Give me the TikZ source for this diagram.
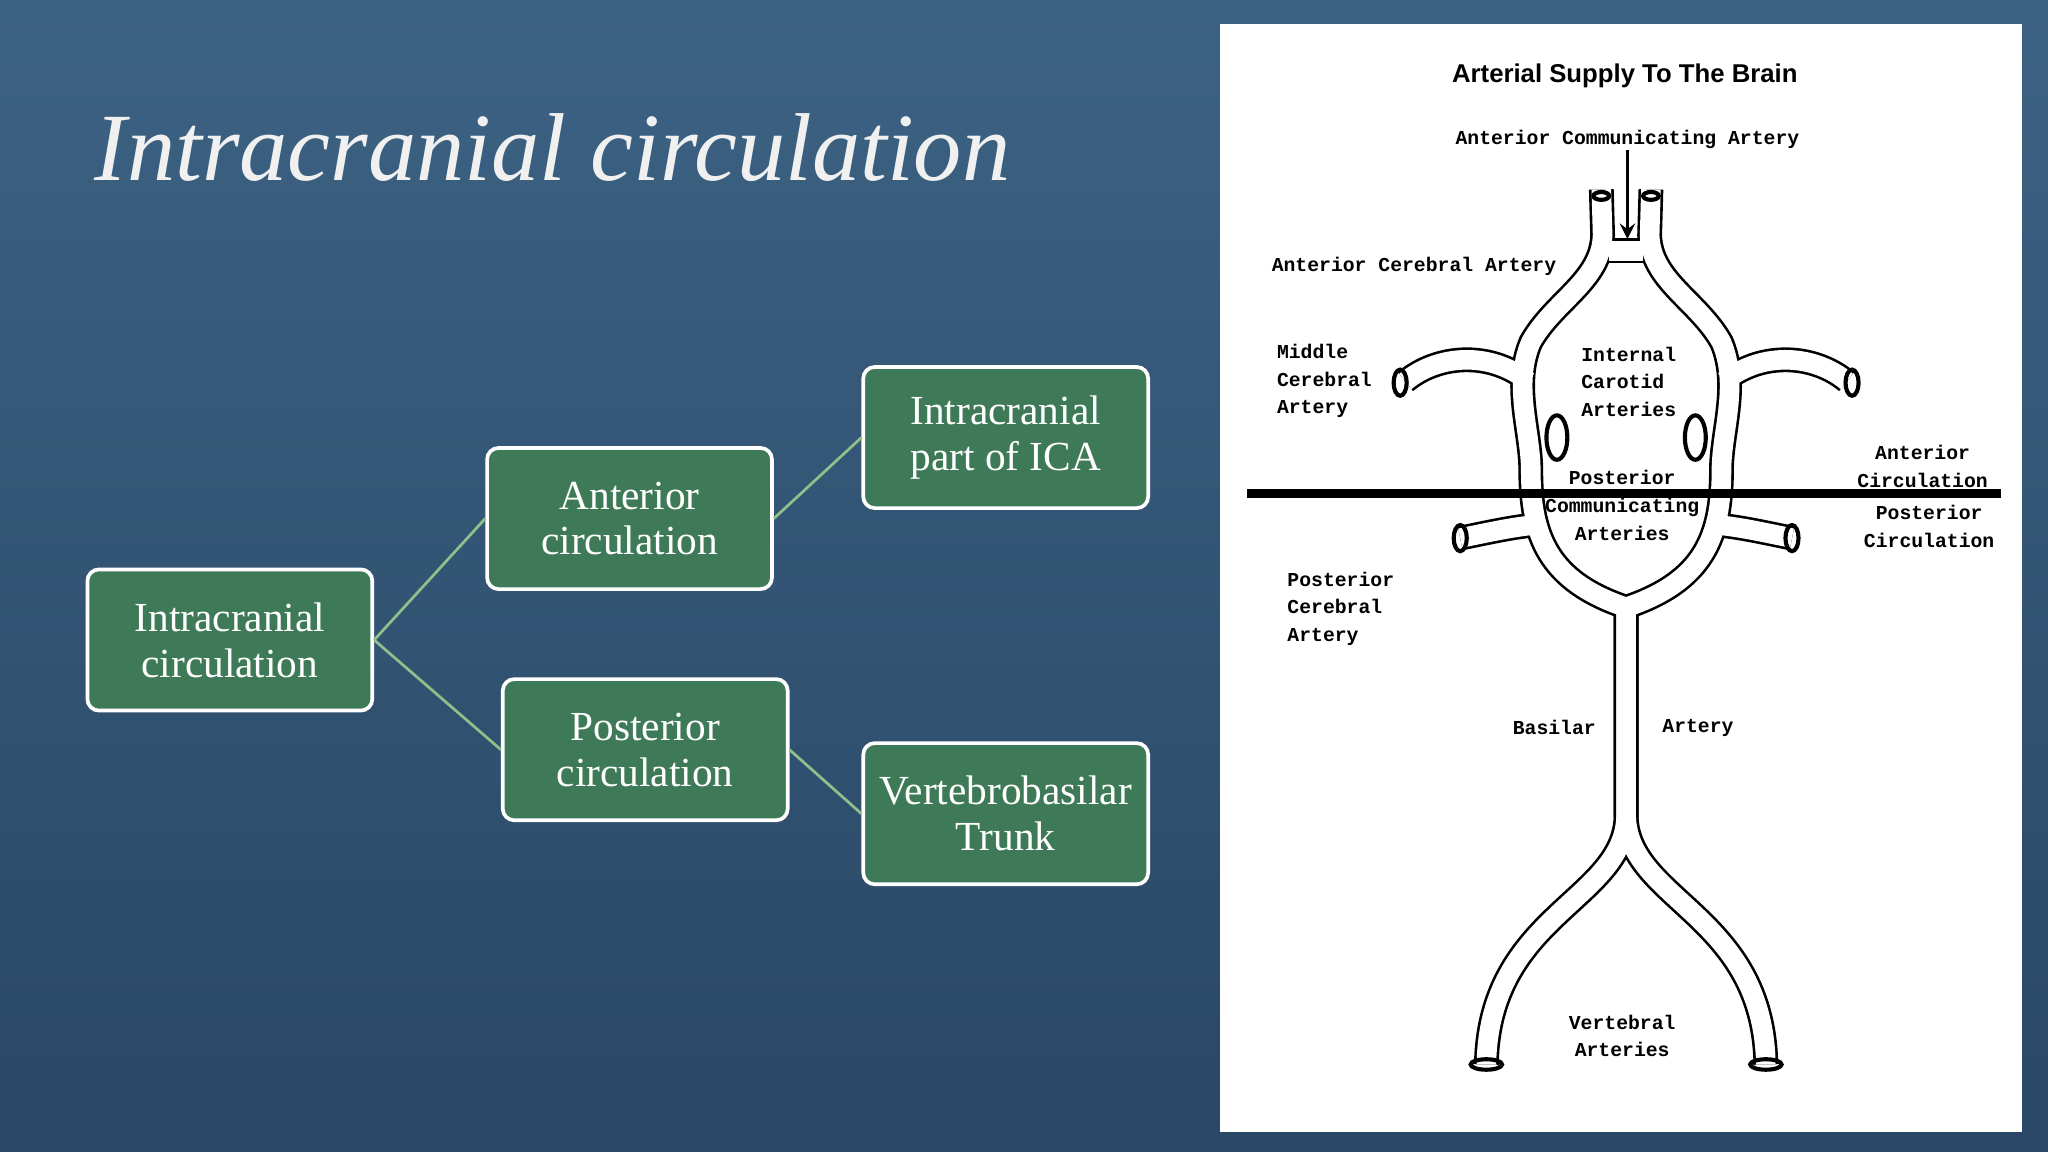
\documentclass[tikz,border=0pt]{standalone}
\usepackage{fontspec}
\setmainfont{Liberation Serif}
\newfontfamily\mono{Liberation Mono}
\newfontfamily\sans{Liberation Sans}
\begin{document}
\begin{tikzpicture}[x=0.01cm,y=-0.01cm,
 box/.style={draw=white,line width=0.8pt,rounded corners=2.5pt,fill=boxg,text=white,minimum width=2.18cm,minimum height=1.08cm,align=center,font=\fontsize{9}{10}\selectfont,inner sep=1pt},
 con/.style={draw=lgreen,line width=0.6pt},
 lab/.style={font=\mono\bfseries\fontsize{4.3}{6.0}\selectfont,align=left,text=black,inner sep=0pt}]
\definecolor{boxg}{HTML}{3F7A58}
\definecolor{lgreen}{HTML}{8FBF8A}
\definecolor{bgt}{HTML}{3C6283}
\definecolor{bgb}{HTML}{2A4765}
\shade[top color=bgt,bottom color=bgb] (0,0) rectangle (1568,882);
\useasboundingbox (0,0) rectangle (1568,882);
\node[anchor=base west,text=white!88!gray,font=\itshape\fontsize{21}{24}\selectfont,inner sep=0] (title) at (72,138) {Intracranial circulation};
\node[box] (a) at (176,490) {Intracranial\\circulation};
\node[box] (b) at (482,397) {Anterior\\circulation};
\node[box] (c) at (770,335) {Intracranial\\part of ICA};
\node[box] (d) at (494,574) {Posterior\\circulation};
\node[box] (e) at (770,623) {Vertebrobasilar\\Trunk};
\draw[con] (a.east) -- (b.west);
\draw[con] (a.east) -- (d.west);
\draw[con] (b.east) -- (c.west);
\draw[con] (d.east) -- (e.west);
% panel
\fill[white] (934,18) rectangle (1548,867);
\node[font=\sans\bfseries\fontsize{5.6}{7}\selectfont] (ttl) at (1244,58) {Arterial Supply To The Brain};
\def\half{
 (1138,815) .. controls (1140,700) and (1243,690) .. (1245,625) -- (1245,465)
 (1245,465) .. controls (1185,445) and (1172,410) .. (1172,360) .. controls (1172,330) and (1158,295) .. (1172,262) .. controls (1190,230) and (1226,215) .. (1227,180) -- (1226,145)
 (1170,292) .. controls (1140,268) and (1100,272) .. (1076,292)
 (1174,402) .. controls (1155,404) and (1138,408) .. (1118,412)
}
\foreach \w/\c in {19/black,15/white}{
 \draw[line width=\w*0.2845pt,\c] \half;
 \begin{scope}[shift={(2490,0)},xscale=-1]\draw[line width=\w*0.2845pt,\c] \half;\end{scope}
 \draw[line width=\w*0.2845pt,\c] (1232,192) -- (1258,192);
}
\foreach \x/\y/\rx/\ry in {1192/335/8/17,1298/335/8/17,1072/293/5/10,1418/293/5/10,1118/412/5/10,1372/412/5/10,1138/815/12/4,1352/815/12/4,1226/150/6/3,1264/150/6/3}
 \draw[line width=0.9pt] (\x,\y) ellipse [x radius=\rx,y radius=\ry];
\draw[line width=2pt] (955,378) -- (1532,378);
\node[lab] (acom) at (1246,107) {Anterior Communicating Artery};
\draw[-stealth,line width=0.5pt] (acom.south) -- (1246,183);
\node[lab,anchor=west] (aca) at (973,204) {Anterior Cerebral Artery};
\node[lab,anchor=north west] (mca) at (977,263) {Middle\\Cerebral\\Artery};
\node[lab,anchor=north west] (ica) at (1210,265) {Internal\\Carotid\\Arteries};
\node[lab,align=center] (pcom) at (1242,387) {Posterior\\Communicating\\Arteries};
\node[lab,align=center] (ac) at (1472,357) {Anterior\\Circulation};
\node[lab,align=center] (pc) at (1477,403) {Posterior\\Circulation};
\node[lab,anchor=north west] (pca) at (985,437) {Posterior\\Cerebral\\Artery};
\node[lab] (bas) at (1190,557) {Basilar};
\node[lab] (art) at (1300,557) {Artery};
\node[lab,align=center] (va) at (1242,793) {Vertebral\\Arteries};
\end{tikzpicture}
\end{document}
